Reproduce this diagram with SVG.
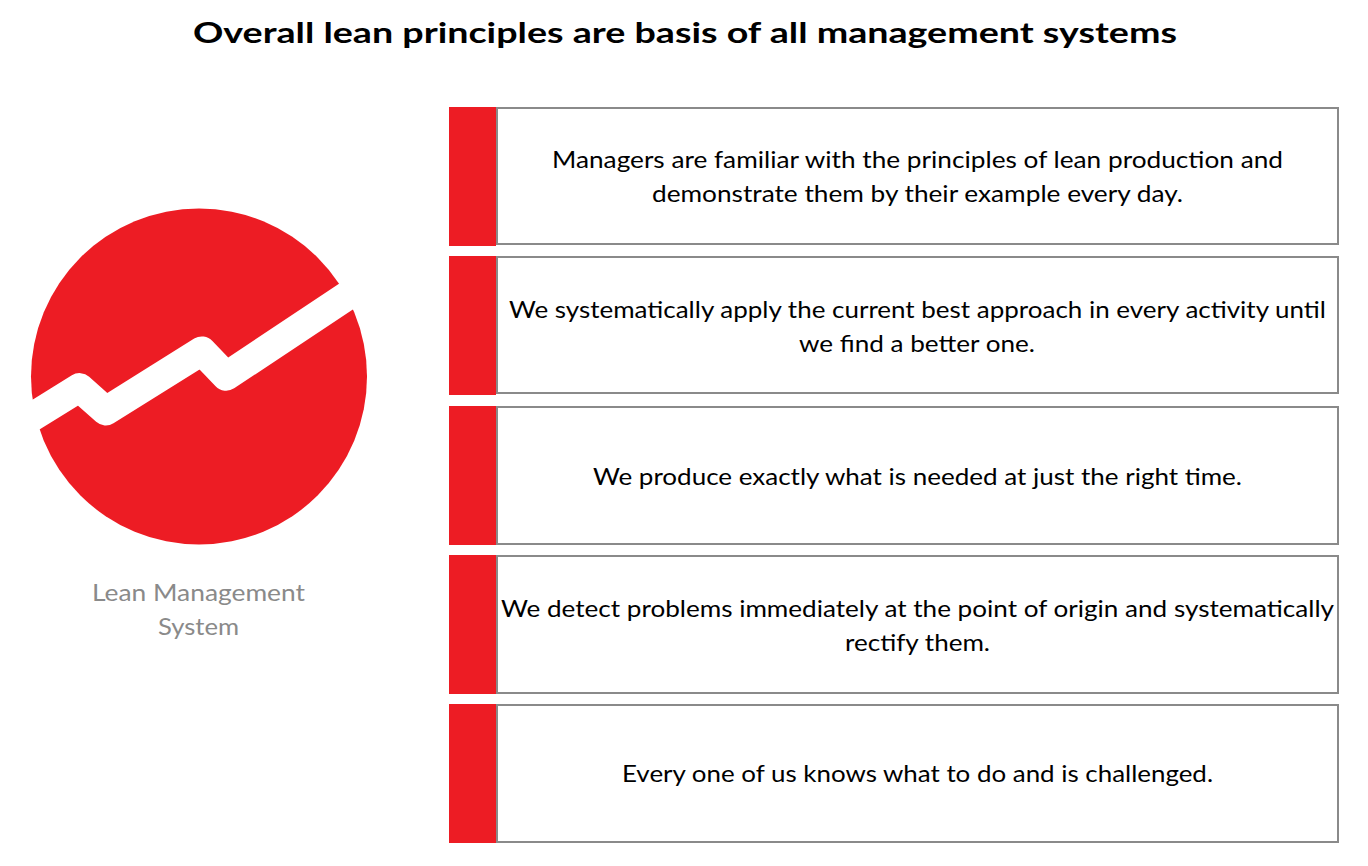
<svg xmlns="http://www.w3.org/2000/svg" width="1368" height="866" viewBox="0 0 1368 866">
<style>
.title{font-family:Lato,"Open Sans","Liberation Sans",sans-serif;font-weight:bold;font-size:28px;fill:#000;text-anchor:middle}
.body{font-family:Lato,"Open Sans","Liberation Sans",sans-serif;font-size:24px;fill:#000;text-anchor:middle}
.label{font-family:Lato,"Open Sans","Liberation Sans",sans-serif;font-size:24px;fill:#8a8a8a;text-anchor:middle}
.bar{fill:#ED1C24}
.box{fill:#fff;stroke:#8a8a8a;stroke-width:2}
</style>
<rect width="1368" height="866" fill="#fff"/>
<text class="title" x="685" y="43" textLength="984" lengthAdjust="spacingAndGlyphs">Overall lean principles are basis of all management systems</text>

<g id="logo">
<circle cx="199" cy="376.5" r="168" fill="#ED1C24"/>
<polyline points="12,429.5 79.5,387.6 105.8,411 201.9,350.9 226.1,376.3 385,270.6" fill="none" stroke="#fff" stroke-width="29" stroke-linejoin="round"/>
<text class="label" x="198.5" y="601" textLength="213" lengthAdjust="spacingAndGlyphs">Lean Management</text>
<text class="label" x="198.5" y="635" textLength="81" lengthAdjust="spacingAndGlyphs">System</text>
</g>

<g id="node1">
<rect class="bar" x="449" y="107" width="47" height="139"/>
<rect class="box" x="497" y="108" width="841" height="136"/>
<text class="body" x="917.5" y="168" textLength="731" lengthAdjust="spacingAndGlyphs">Managers are familiar with the principles of lean production and</text>
<text class="body" x="917.5" y="202" textLength="531" lengthAdjust="spacingAndGlyphs">demonstrate them by their example every day.</text>
</g>

<g id="node2">
<rect class="bar" x="449" y="256" width="47" height="139"/>
<rect class="box" x="497" y="257" width="841" height="136"/>
<text class="body" x="917.5" y="317.5" textLength="817" lengthAdjust="spacingAndGlyphs">We systematically apply the current best approach in every activity until</text>
<text class="body" x="917" y="351.5" textLength="236" lengthAdjust="spacingAndGlyphs">we find a better one.</text>
</g>

<g id="node3">
<rect class="bar" x="449" y="406" width="47" height="139"/>
<rect class="box" x="497" y="407" width="841" height="137"/>
<text class="body" x="917.5" y="485" textLength="649" lengthAdjust="spacingAndGlyphs">We produce exactly what is needed at just the right time.</text>
</g>

<g id="node4">
<rect class="bar" x="449" y="555" width="47" height="139"/>
<rect class="box" x="497" y="556" width="841" height="137"/>
<text class="body" x="917.5" y="617" textLength="833" lengthAdjust="spacingAndGlyphs">We detect problems immediately at the point of origin and systematically</text>
<text class="body" x="917.5" y="651" textLength="145" lengthAdjust="spacingAndGlyphs">rectify them.</text>
</g>

<g id="node5">
<rect class="bar" x="449" y="704" width="47" height="139"/>
<rect class="box" x="497" y="705" width="841" height="137"/>
<text class="body" x="917.5" y="782" textLength="591" lengthAdjust="spacingAndGlyphs">Every one of us knows what to do and is challenged.</text>
</g>

<g id="connectors"></g>
</svg>
